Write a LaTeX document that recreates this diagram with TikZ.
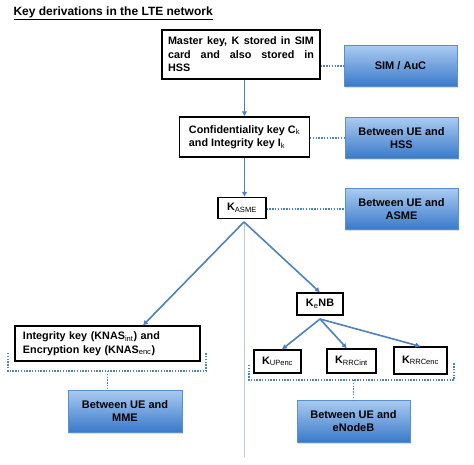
\documentclass[tikz,border=0pt]{standalone}
\usepackage{fontspec}
\setmainfont{Liberation Sans}
\usetikzlibrary{arrows.meta,calc,shadows}
\definecolor{linkblue}{HTML}{4F81BD}
\definecolor{scopetop}{HTML}{A9CBF1}
\definecolor{scopebot}{HTML}{3A79CA}
\definecolor{scopeedge}{HTML}{5A8FCF}
\definecolor{axisgray}{HTML}{BCCADB}
\newcommand{\ks}[1]{\textsubscript{\mdseries #1}}

\begin{document}
\begin{tikzpicture}[
    x=1pt, y=-1pt,
    keybox/.style={
        draw=black,
        line width=1.1pt,
        fill=white,
        inner sep=0pt,
        align=left,
        font=\fontsize{10.8}{13.5}\selectfont\bfseries,
    },
    scopebox/.style={
        draw=scopeedge,
        line width=0.6pt,
        top color=scopetop,
        bottom color=scopebot,
        minimum width=113pt,
        minimum height=41pt,
        align=center,
        font=\fontsize{11}{13.5}\selectfont\bfseries,
        drop shadow={opacity=0.25, shadow xshift=1pt, shadow yshift=-2pt},
    },
    derive/.style={draw=linkblue, line width=1.6pt, -{Latex[length=5pt,width=5.5pt]}},
    scopelink/.style={draw=linkblue, line width=1.5pt, dash pattern=on 1.4pt off 1.4pt},
]
\useasboundingbox (0,0) rectangle (474,465);

\node[anchor=west, font=\fontsize{12}{14}\selectfont\bfseries] (title) at (10,13) {\underline{Key derivations in the LTE network}};

\node[keybox, text width=146pt, align=justify, inner xsep=6pt, minimum height=49pt] (master) at (241,54.5) {Master key, K stored in SIM\linebreak card and also stored in\linebreak HSS};
\node[keybox, minimum width=130pt, minimum height=40pt] (conf) at (244.5,137) {Confidentiality key C\ks{k}\\and Integrity key I\ks{k}};
\node[keybox, minimum width=48pt, minimum height=21pt] (kasme) at (242,208) {K\ks{ASME}};
\node[keybox, text width=169pt, inner xsep=8pt, minimum height=35pt] (nas) at (107.5,343.5) {Integrity key (KNAS\ks{int}) and\\Encryption key (KNAS\ks{enc})};
\node[keybox, minimum width=46pt, minimum height=22pt] (kenb) at (320,304) {K\ks{e}NB};
\node[keybox, minimum width=47pt, minimum height=23pt] (kup) at (277.5,361.5) {K\ks{UPenc}};
\node[keybox, minimum width=49pt, minimum height=24pt] (krrci) at (351.5,361) {K\ks{RRCint}};
\node[keybox, minimum width=53pt, minimum height=27pt] (krrce) at (420.5,360.5) {K\ks{RRCenc}};

\node[scopebox] (sim) at (400.5,66) {SIM / AuC};
\node[scopebox] (hss) at (401.5,138) {Between UE and\\HSS};
\node[scopebox] (asme) at (401.5,209) {Between UE and\\ASME};
\node[scopebox, minimum width=114pt, minimum height=42pt] (mme) at (125,411) {Between UE and\\MME};
\node[scopebox, minimum height=42pt] (enb) at (353.5,421) {Between UE and\\eNodeB};

\coordinate (apex) at (244,222);
\coordinate (axisend) at (244,457);
\coordinate (fork) at (320,319);
\coordinate (lbtl) at (8,353);
\coordinate (lbbl) at (8,371);
\coordinate (lbbr) at (206,371);
\coordinate (lbtr) at (206,353);
\coordinate (rbtl) at (249,365);
\coordinate (rbbl) at (249,380);
\coordinate (rbbr) at (454,380);
\coordinate (rbtr) at (454,363);

\draw[axisgray, line width=1pt] (apex) -- (axisend);

\draw[derive] (conf.north |- master.south) -- (conf.north);
\draw[derive] (conf.south) -- (conf.south |- kasme.north);
\draw[derive] (apex) -- (nas.27);
\draw[derive] (apex) -- (kenb.north);
\draw[derive] (fork) -- (kup.70);
\draw[derive] (fork) -- (krrci.110);
\draw[derive] (fork) -- (krrce.north);

\draw[scopelink] (sim.west -| master.east) -- (sim.west);
\draw[scopelink] (hss.west -| conf.east) -- (hss.west);
\draw[scopelink] (asme.west -| kasme.east) -- (asme.west);

\draw[scopelink] (lbtl) -- (lbbl) -- (lbbr) -- (lbtr);
\draw[scopelink] (nas.south |- lbbl) -- (nas.south |- mme.north);
\draw[scopelink] (rbtl) -- (rbbl) -- (rbbr) -- (rbtr);
\draw[scopelink] (enb.north |- rbbl) -- (enb.north);

\end{tikzpicture}
\end{document}
